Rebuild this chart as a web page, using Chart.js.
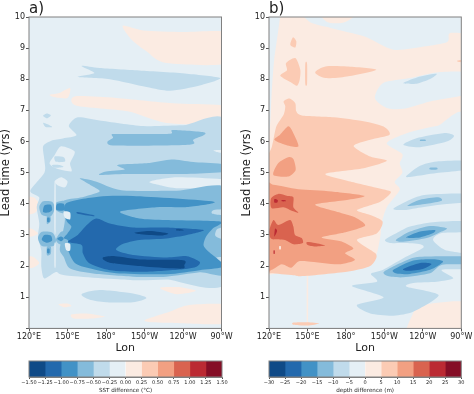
<!DOCTYPE html>
<html><head><meta charset="utf-8">
<script src="https://cdn.jsdelivr.net/npm/chart.js@4"></script>
<style>
html,body{margin:0;padding:0;background:#fff;width:474px;height:394px;overflow:hidden}
canvas{position:absolute;display:block;filter:blur(0.45px)}
</style></head><body>
<canvas id="panelA" width="237" height="356" style="left:0;top:0"></canvas>
<canvas id="panelB" width="237" height="356" style="left:237px;top:0"></canvas>
<canvas id="barA" width="237" height="39" style="left:0;top:355px"></canvas>
<canvas id="barB" width="237" height="39" style="left:237px;top:355px"></canvas>
<script>
// ---- axes and labels
const lonTicks = [120,150,180,210,240,270];
const lonLabels = ['120°E','150°E','180°','150°W','120°W','90°W'];
const leadTicks = [0,1,2,3,4,5,6,7,8,9,10];
const leadLabels = ['','1','2','3','4','5','6','7','8','9','10'];
const sstLevels = [-1.5,-1.25,-1,-0.75,-0.5,-0.25,0,0.25,0.5,0.75,1,1.25,1.5];
const sstLevelLabels = ['−1.50','−1.25','−1.00','−0.75','−0.50','−0.25','0.00','0.25','0.50','0.75','1.00','1.25','1.50'];
const depthLevels = [-30,-25,-20,-15,-10,-5,0,5,10,15,20,25,30];
const depthLevelLabels = ['−30','−25','−20','−15','−10','−5','0','5','10','15','20','25','30'];
const bandColors = ['#0f4a87','#2369ad','#4292c6','#84bbdb','#c0dbeb','#e5eff5','#fbebe2','#fbcbb4','#f2a082','#d9634f','#bb2a33','#850e26'];

// ---- panel a) contour bands, [lon, lead] outlines
const sstWarmTop = [[193,9.72],[209,9.57],[240,9.52],[276,9.49],[276,8.52],[227,8.52],[211.5,8.9],[200,9.27]];
const sstWarmSpot = [[136,7.5],[143,7.55],[152,7.72],[150,7.4],[140,7.42]];
const sstWarmBand = [[155.6,7.45],[188,7.4],[232,7.23],[276,7.13],[276,6.57],[227,6.6],[197,6.97],[157,7.15]];
const sstWarmLow1 = [[143,.78],[150,.8],[153,.72],[147,.68]];
const sstWarmLow2 = [[153,.45],[165,.48],[179,.38],[170,.32],[155,.32]];
const sstWarmLow3 = [[210,.25],[230,.54],[245,.75],[276,.75],[276,.16],[227,.18]];
const sstWarmLow4 = [[222,1.3],[238,1.32],[250,1.2],[235,1.1]];
const sstWarmLeft1 = [[116,4.2],[124,4.2],[128,3.95],[124,3.7],[116,3.7]];
const sstWarmLeft2 = [[116,3.2],[122,3.2],[127,3.05],[122,2.95],[116,2.95]];
const sstWarmLeft3 = [[116,2.3],[123,2.3],[128,2.1],[123,1.95],[116,1.95]];
const sstCool8 = [[161,8.43],[175,8.36],[206,8.28],[243,8.18],[269,8.04],[253,7.8],[230,7.63],[211.5,7.75],[183,8],[158,8.07],[171,8.2]];
const sstCoolMain = [[158,6.78],[175,6.68],[209,6.5],[240,6.52],[276,6.54],[276,1.57],[227,1.57],[201,1.55],[149,1.7],[141,1.81],[132,1.6],[129.6,1.98],[129.6,2.5],[127,2.93],[128,3.37],[126,3.9],[128,4.2],[121,4.42],[132,5],[132,5.4],[131,5.85],[137.4,6.03],[146.5,6.1],[157,6.2],[151,6.5]];
const sstCoolLow = [[161,1.1],[175,1.23],[201,1.12],[211.5,.98],[201,.84],[180,.84],[167,.93]];
const sstIsle1 = [[131,6.83],[134,6.9],[137,6.84],[134,6.75]];
const sstIsle2 = [[131,6.6],[134,6.56],[138,6.47],[133,6.47]];
const sstHole1 = [[145,5.85],[155.6,5.68],[152,5.3],[153,5.04],[141,5.14],[136,5.3],[140,5.57]];
const sstHole2 = [[140,4.72],[145,4.85],[150,4.72],[148,4.53],[143,4.58]];
const sstHole3 = [[264,5.72],[276,5.72],[276,5.63],[268,5.65]];
const sstHole4 = [[214,4.71],[235,4.85],[276,4.76],[276,4.5],[237,4.5],[222,4.6]];
const sstHoleIsle1 = [[140,5.52],[147,5.5],[148,5.36],[141,5.35]];
const sstHoleIsle2 = [[138,5.25],[144,5.25],[147,5.18],[140,5.16]];
const sstMid6 = [[185,6.24],[201,6.24],[230,6.25],[232,6.37],[256,6.3],[256,6.2],[248,6.06],[245,5.9],[188,5.87],[181,5.98],[185.5,6.12]];
const sstMid5 = [[189,5.25],[214,5.31],[231,5.42],[248,5.34],[276,5.25],[276,5.04],[243,4.96],[196,4.96],[175,4.93],[180,5.04],[194.6,5.1]];
const sstMidMain = [[159.5,4.82],[172,4.72],[192,4.44],[235,4.42],[276,4.46],[276,1.85],[253,1.8],[227,1.66],[201,1.66],[170,1.76],[152,1.92],[147,2.3],[144,2.52],[146,3],[148,3.5],[147,4.08],[160,4.2],[175,4.4],[168,4.6]];
const sstMidLeft1 = [[128,3.9],[131,4.08],[138,4.07],[140,3.85],[137,3.6],[130,3.65]];
const sstMidLeft2 = [[141,3.8],[141.5,4.05],[148,4.1],[150,4],[150,3.75],[146,3.7]];
const sstMidLeft3 = [[134,3.35],[137,3.45],[136.5,3.6],[134,3.6]];
const sstMidLeft4 = [[127,2.9],[130,3.1],[138,3.08],[141,2.85],[139,2.65],[130,2.65]];
const sstMidLeft5 = [[134,2.35],[137,2.4],[137,2.62],[134,2.62]];
const sstMidLeft6 = [[141,2.85],[145,3.1],[150,3.1],[150,2.7],[144,2.7]];
const sstGap1 = [[276,3.82],[264,3.8],[263,3.68],[276,3.62]];
const sstGap2 = [[276,3.25],[267,3.2],[265,3],[268,2.9],[276,2.85]];
const sstGap3 = [[276,2.3],[264,2.25],[268,2.05],[276,2]];
const sstStrong = [[149,4.02],[174,4.23],[201,4.25],[264,4.07],[243,3.9],[219,3.89],[191,3.75],[206,3.53],[227,3.48],[269,3.43],[263,3.2],[258,2.95],[256,2.67],[260,2.46],[272,2],[253,1.87],[227,1.74],[188,1.77],[167,1.93],[156,2.09],[150.4,2.52],[150.4,2.82],[147,2.9],[150,3.05],[153,3.27],[149,3.48]];
const sstStrongL1 = [[131,3.74],[132,3.95],[137,3.97],[138,3.8],[135,3.72]];
const sstStrongL2 = [[141,3.82],[142,4],[147,4],[148,3.82],[145,3.78]];
const sstStrongL3 = [[134.2,3.42],[136,3.42],[136,3.55],[134.2,3.55]];
const sstStrongL4 = [[130,2.85],[132,3],[137,2.98],[138,2.82],[134,2.75]];
const sstStrongL5 = [[134.2,2.42],[136,2.42],[136,2.55],[134.2,2.55]];
const sstStrongL6 = [[142,2.88],[145,2.95],[147,2.88],[145,2.8]];
const sstDeep = [[172.5,3.53],[183,3.37],[201,3.24],[227,3.24],[256,3.16],[243,3],[227,2.89],[206,2.84],[193,2.71],[188,2.52],[201,2.36],[227,2.28],[243,2.32],[253,2.14],[250.5,1.98],[240,1.9],[209,1.82],[183,1.87],[167,2.09],[162,2.41],[161,2.68],[150.4,2.78],[158,3],[165,3.32]];
const sstDeepSlice = [[158,3.74],[170,3.64],[170,3.6],[158,3.68]];
const sstPeak1 = [[177.7,2.28],[187,2.32],[209,2.21],[240,2.19],[241,2.03],[239,1.92],[211.5,1.98],[185.5,2.09],[179,2.18]];
const sstPeak2 = [[202.4,3.08],[214,3.13],[228.4,3.05],[222,2.98],[206,3.03]];
const sstPeak3 = [[235,3.18],[240,3.17],[240,3.14],[235,3.14]];
const sstStreak1 = [[139.8,4.6],[140.8,4.6],[140.8,3.15],[139.8,3.15]];
const sstStreak2 = [[139.8,2.7],[140.8,2.7],[140.8,2],[139.8,2]];
const sstStreak3 = [[147,3.75],[152,3.72],[152,3.5],[148,3.55]];
const sstStreak4 = [[148,2.73],[152,2.72],[152,2.5],[149,2.52]];

const sstLayers = [
 [6,sstWarmTop],[6,sstWarmSpot],[6,sstWarmBand],[6,sstWarmLow1],[6,sstWarmLow2],[6,sstWarmLow3],[6,sstWarmLow4],[6,sstWarmLeft1],[6,sstWarmLeft2],[6,sstWarmLeft3],
 [4,sstCool8],[4,sstCoolMain],[4,sstCoolLow],[4,sstIsle1],[4,sstIsle2],
 [5,sstHole1],[5,sstHole2],[5,sstHole3],[5,sstHole4],[4,sstHoleIsle1],[4,sstHoleIsle2],
 [3,sstMid6],[3,sstMid5],[3,sstMidMain],[3,sstMidLeft1],[3,sstMidLeft2],[3,sstMidLeft3],[3,sstMidLeft4],[3,sstMidLeft5],[3,sstMidLeft6],
 [4,sstGap1],[4,sstGap2],[4,sstGap3],
 [2,sstStrong],[2,sstStrongL1],[2,sstStrongL2],[2,sstStrongL3],[2,sstStrongL4],[2,sstStrongL5],[2,sstStrongL6],
 [1,sstDeep],[1,sstDeepSlice],
 [0,sstPeak1],[0,sstPeak2],[0,sstPeak3],
 [5,sstStreak1],[5,sstStreak2],[5,sstStreak3],[5,sstStreak4]
];

// ---- panel b) contour bands
const depColdLeft = [[116,10.4],[129,10.4],[124,8.6],[122,7.5],[120.5,6.4],[116,6.4]];
const depColdTop = [[151,10.4],[276,10.4],[276,9.54],[261,9.48],[259,9.2],[240.6,9.05],[217,8.95],[194,9.38],[168,9.65],[151,9.86]];
const depWarmTopPatch = [[157,10.4],[196,10.4],[180,9.85],[165,9.85]];
const depColdMid = [[276,8.2],[250.8,8.22],[230,8.04],[209,7.88],[202.6,7.4],[211.8,7.08],[224.7,7.05],[245.6,7.29],[276,7.56]];
const depColdLow = [[276,6.6],[251,6.5],[227.4,6.27],[211.8,5.95],[224,5.6],[222,5.3],[224,5],[218,4.7],[222,4.45],[212,3.9],[208,3.4],[207,3],[204,2.4],[198.8,2.3],[192,2.14],[185.7,1.98],[158,1.72],[132.5,1.82],[120.8,1.72],[116,1.72],[116,-.4],[276,-.4]];
const depWarmCorner = [[276,.81],[240,.75],[232,.45],[228,-.4],[276,-.4]];
const depWarmStreak = [[149.5,1.8],[150.5,1.8],[150.5,.2],[149.5,.2]];
const depSlightTop = [[138.7,9.35],[141.3,9.22],[140.5,9.02],[136.6,9.11]];
const depSlight8 = [[133.3,8.52],[140.5,8.68],[144.4,8.31],[143.9,7.98],[141.8,7.79],[137.9,7.88],[128.8,8.11],[134,8.29]];
const depSlightStrip = [[148.3,8.5],[149.7,8.5],[149.7,7.85],[148.3,7.85]];
const depSlightBand = [[156,8.22],[164,8.41],[180.8,8.41],[203.7,8.31],[180.8,8.09],[164,8.04]];
const depSlightEdge = [[267,8.6],[270,8.62],[270,8.55],[267,8.57]];
const depSlightBase = [[139,.19],[150,.2],[159,.16],[150,.09],[139,.12]];
const depWarmMain = [[136,7.38],[140.5,7.23],[141.3,6.97],[145.7,6.84],[170.4,6.78],[193.8,6.65],[209.4,6.48],[214,6.22],[199,6.06],[186,5.86],[199,5.52],[212,5.38],[193.8,5.14],[164,4.96],[183.4,4.72],[210.7,4.45],[215,4.36],[206.8,4.07],[188.6,3.8],[199,3.64],[208.6,3.43],[204,3.05],[188.6,2.84],[203,2.41],[203,2.2],[197.7,1.98],[180.8,1.82],[147,1.68],[139,1.71],[121,1.77],[116,1.77],[116,5],[122.3,5.84],[125.7,6.48],[131.4,6.86],[132.7,7.13],[131.4,7.29]];
const depMid6 = [[135.1,6.49],[139,6.27],[142.9,5.84],[132.5,5.9],[124.2,6.06],[128.6,6.22]];
const depMid5 = [[135.1,5.5],[139,5.44],[140.8,5.09],[135.1,4.88],[123.4,4.93],[127.3,5.31]];
const depMidMain = [[116,4.58],[123.4,4.61],[142.9,4.47],[168.9,4.4],[194.4,4.26],[181.9,4.13],[155.9,3.97],[176.7,3.7],[187,3.57],[194.9,3.3],[176.7,3.06],[161.1,2.92],[176.7,2.79],[185.8,2.57],[179.3,2.41],[187,2.2],[174.1,2.06],[150.7,2.15],[142.9,2.15],[137.2,1.95],[129.9,2.06],[122.1,1.88],[116,1.9]];
const depHigh4 = [[121.6,4.18],[127.3,4.32],[133.8,4.26],[139,4.21],[139,3.89],[142.9,3.72],[137.7,3.78],[131.2,3.89],[122.1,3.86]];
const depHigh3 = [[123.4,3.48],[127.3,3.32],[136.4,3.48],[139,3.27],[140.3,3],[145.5,2.9],[146.3,2.74],[139,2.7],[132.5,2.84],[122.1,2.87],[120,3.1]];
const depHighSlice = [[149.4,2.77],[155.9,2.74],[163.7,2.66],[155.9,2.63],[150.2,2.68]];
const depTop4a = [[124.2,4.15],[126.8,4.12],[126.5,4.04],[124.2,4.04]];
const depTop4b = [[130,4.12],[133,4.11],[133,4.08],[130,4.08]];
const depTop3 = [[124.7,3.2],[126.3,3.13],[124.2,2.95]];
const depTop2 = [[123.6,2.5],[124.4,2.5],[124.4,2.4],[123.6,2.4]];
const depCool1 = [[224.8,7.88],[237.8,8.09],[250.8,8.18],[245.6,8.01],[235,7.86]];
const depCool2 = [[224.8,5.9],[235,6.11],[256,6.27],[264.3,6.19],[258.6,6],[237.8,5.82]];
const depCool3 = [[226.9,4.88],[237.8,5.22],[250.8,5.36],[276,5.38],[276,5.11],[250.8,4.99],[232.6,4.88]];
const depCool4 = [[217,3.84],[230,4.13],[243,4.29],[276,4.32],[276,4.07],[253.3,3.97],[235,3.86],[225,3.8]];
const depCoolBig = [[210.5,2.84],[219.6,3.06],[230,3.27],[248,3.41],[276,3.43],[276,3.11],[254.7,3.06],[248,2.84],[257.3,2.52],[276,2.36],[276,1.93],[254.7,1.88],[263.8,1.61],[250.8,1.5],[232.6,1.46],[227.4,1.34],[252.3,1.07],[232.8,.54],[217.2,.41],[199,.48],[188.6,.75],[209.4,1],[184.7,1.36],[204.2,1.5],[199.5,1.75],[209,1.88],[224.8,2.25],[240,2.58],[238,2.7],[224.7,2.74],[214.4,2.74]];
const depMod2 = [[238,6.06],[242,6.06],[242,6.02],[238,6.02]];
const depMod3 = [[245.6,5.16],[251,5.16],[251,5.1],[245.6,5.1]];
const depMod4 = [[228,3.93],[237.8,4.13],[252,4.21],[254.7,4.1],[243,4]];
const depMod5 = [[219,2.84],[230,3.11],[245.6,3.29],[258.6,3.22],[254.7,3.11],[243,2.9],[224.7,2.78]];
const depMod6 = [[209.7,1.82],[224.7,2.14],[237.8,2.3],[276,2.3],[276,2.07],[255,2.04],[245.6,1.77],[224.7,1.64],[212.7,1.68]];
const depStrong5 = [[227,2.92],[237.8,3.11],[249.3,3.16],[248,3.06],[237.8,2.92]];
const depStrong6 = [[217,1.88],[232.6,2.18],[248,2.22],[255.8,2.14],[245.6,1.88],[230,1.75],[219.5,1.76]];
const depDeep6 = [[224.7,1.91],[237.8,2.1],[246.7,2.07],[240,1.91],[228.5,1.85]];
const depSpeck = [[128,2.64],[129.2,2.64],[129.2,2.54],[128,2.54]];

const depthLayers = [
 [5,depColdLeft],[5,depColdTop],[6,depWarmTopPatch],[5,depColdMid],[5,depColdLow],[6,depWarmCorner],[6,depWarmStreak],
 [7,depSlightTop],[7,depSlight8],[7,depSlightStrip],[7,depSlightBand],[7,depSlightEdge],[7,depSlightBase],[7,depWarmMain],
 [8,depMid6],[8,depMid5],[8,depMidMain],
 [9,depHigh4],[9,depHigh3],[9,depHighSlice],
 [10,depTop4a],[10,depTop4b],[10,depTop3],[10,depTop2],
 [4,depCool1],[4,depCool2],[4,depCool3],[4,depCool4],[4,depCoolBig],
 [3,depMod2],[3,depMod3],[3,depMod4],[3,depMod5],[3,depMod6],
 [2,depStrong5],[2,depStrong6],[1,depDeep6],[6,depSpeck]
];

// ---- fills every outline from the points the scatter scales positioned
const contourFill = {
  id:'contourFill',
  beforeDatasetsDraw(chart,args,opts){
    const {ctx,chartArea:a} = chart;
    ctx.save();
    ctx.beginPath(); ctx.rect(a.left,a.top,a.right-a.left,a.bottom-a.top); ctx.clip();
    ctx.fillStyle = opts.base; ctx.fillRect(a.left,a.top,a.right-a.left,a.bottom-a.top);
    chart.data.datasets.forEach((ds,i)=>{
      const p = chart.getDatasetMeta(i).data, n = p.length, k = 1/8;
      ctx.beginPath(); ctx.moveTo(p[0].x,p[0].y);
      for(let j=0;j<n;j++){
        const p0=p[(j-1+n)%n],p1=p[j],p2=p[(j+1)%n],p3=p[(j+2)%n];
        ctx.bezierCurveTo(p1.x+(p2.x-p0.x)*k,p1.y+(p2.y-p0.y)*k,p2.x-(p3.x-p1.x)*k,p2.y-(p3.y-p1.y)*k,p2.x,p2.y);
      }
      ctx.closePath(); ctx.fillStyle = ds.backgroundColor; ctx.fill();
    });
    ctx.restore();
  },
  afterDatasetsDraw(chart){
    const {ctx,chartArea:a} = chart;
    ctx.save(); ctx.strokeStyle='#808080'; ctx.lineWidth=1;
    ctx.strokeRect(a.left,a.top,a.right-a.left,a.bottom-a.top); ctx.restore();
  }
};
const FONT='"DejaVu Sans"';
function panel(id,layers,base,tag,axisW,padL,padR){
  return new Chart(document.getElementById(id),{
    type:'scatter',
    data:{datasets:layers.map(([band,pts])=>({data:pts.map(([x,y])=>({x,y})),backgroundColor:bandColors[band],pointRadius:0,pointHoverRadius:0,showLine:false}))},
    plugins:[contourFill],
    options:{responsive:false,animation:false,events:[],
      layout:{padding:{left:padL,right:padR,top:0,bottom:0}},
      plugins:{legend:{display:false},tooltip:{enabled:false},
        contourFill:{base:bandColors[base]},
        title:{display:true,text:tag,align:'start',fullSize:false,color:'#222',font:{family:FONT,size:15,weight:'normal',lineHeight:1},padding:{top:2,bottom:0}}},
      scales:{
        x:{type:'linear',min:lonTicks[0],max:lonTicks[lonTicks.length-1],
          afterBuildTicks(s){s.ticks=lonTicks.map(v=>({value:v}));},
          afterFit(s){s.height=27.6;},
          grid:{drawOnChartArea:false,tickLength:3,tickColor:'#555',color:'#808080'},border:{color:'#808080'},
          ticks:{autoSkip:false,maxRotation:0,minRotation:0,padding:1,color:'#222',font:{family:FONT,size:8},callback:(v,i)=>lonLabels[i]},
          title:{display:true,text:'Lon',color:'#222',font:{family:FONT,size:11,lineHeight:1},padding:{top:0,bottom:2}}},
        y:{type:'linear',min:leadTicks[0],max:leadTicks[leadTicks.length-1],
          afterBuildTicks(s){s.ticks=leadTicks.map(v=>({value:v}));},
          afterFit(s){s.width=axisW;},
          grid:{drawOnChartArea:false,tickLength:3,tickColor:'#555',color:'#808080'},border:{color:'#808080'},
          ticks:{autoSkip:false,padding:1,color:'#222',font:{family:FONT,size:8},callback:(v,i)=>leadLabels[i]},
          title:{display:true,text:'Lead time (yrs)',color:'#222',font:{family:FONT,size:11.5,lineHeight:1},padding:{top:0,bottom:0}}}
      }}
  });
}
function colorbar(id,levels,labels,name,padL,padR){
  return new Chart(document.getElementById(id),{
    type:'bar',
    data:{labels:[''],datasets:bandColors.map((c,i)=>({data:[[levels[i],levels[i+1]]],backgroundColor:c,borderWidth:0,barPercentage:1,categoryPercentage:1,grouped:false}))},
    plugins:[{id:'frame',afterDatasetsDraw(chart){const {ctx,chartArea:a}=chart;ctx.save();ctx.strokeStyle='#808080';ctx.strokeRect(a.left,a.top,a.right-a.left,a.bottom-a.top);ctx.restore();}}],
    options:{indexAxis:'y',responsive:false,animation:false,events:[],
      layout:{padding:{left:padL,right:padR,top:6,bottom:0}},
      plugins:{legend:{display:false},tooltip:{enabled:false}},
      scales:{
        y:{display:false,grid:{display:false}},
        x:{type:'linear',min:levels[0],max:levels[levels.length-1],
          afterBuildTicks(s){s.ticks=levels.map(v=>({value:v}));},
          afterFit(s){s.height=17;},
          grid:{drawOnChartArea:false,tickLength:2,tickColor:'#555',color:'#808080'},border:{color:'#808080'},
          ticks:{autoSkip:false,maxRotation:0,minRotation:0,padding:1,color:'#222',font:{family:FONT,size:5},callback:(v,i)=>labels[i]},
          title:{display:true,text:name,color:'#222',font:{family:FONT,size:5.6,lineHeight:1},padding:{top:1,bottom:1}}}
      }}
  });
}
panel('panelA',sstLayers,5,'a)',29,0,15.5);
panel('panelB',depthLayers,6,'b)',28,4,12.7);
colorbar('barA',sstLevels,sstLevelLabels,'SST difference (°C)',29,15);
colorbar('barB',depthLevels,depthLevelLabels,'depth difference (m)',32,12.7);
</script>
</body></html>
